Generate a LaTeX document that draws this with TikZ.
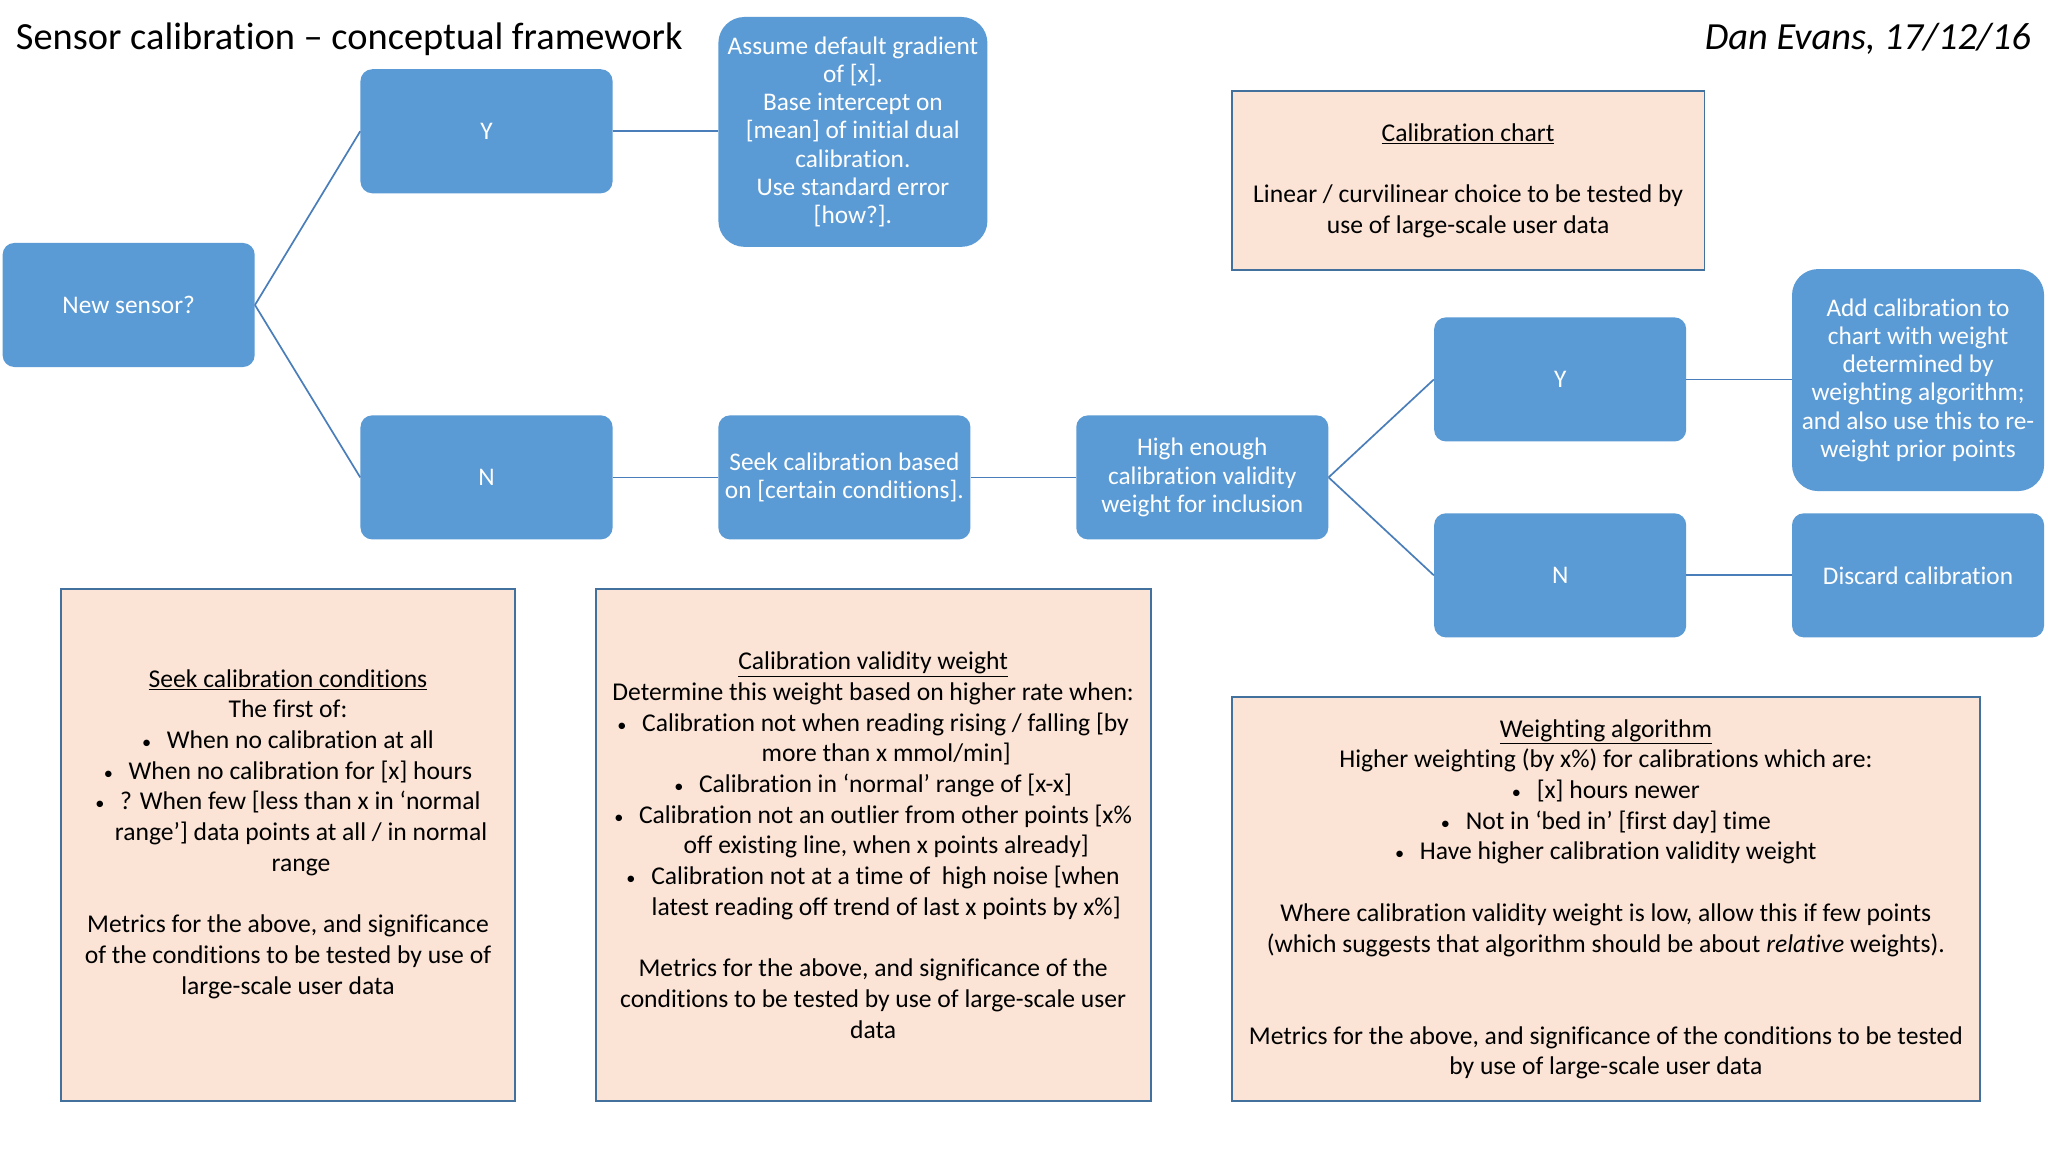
\documentclass[tikz,border=0pt]{standalone}
\usepackage{fontspec}
\setmainfont{Carlito}[RawFeature={-liga;-clig;-dlig;-calt}]
\definecolor{boxblue}{HTML}{5B9BD5}
\definecolor{lineblue}{HTML}{4A7EBB}
\definecolor{peach}{HTML}{FBE4D6}
\definecolor{peachedge}{HTML}{41719C}
\newcommand{\bfs}{\fontsize{19.4}{21.6}\selectfont}
\newcommand{\pfs}{\fontsize{19.6}{23.5}\selectfont}
\newcommand{\bul}{{\fontsize{14}{14}\selectfont•}\hspace{12pt}}
\newcommand{\hang}{\hspace*{20pt}}
\tikzset{
  bluebox/.style={rectangle, fill=boxblue, draw=none, rounded corners=9pt,
    minimum width=193pt, minimum height=95pt, inner sep=0pt, align=center,
    text=white, font=\bfs},
  peachbox/.style={rectangle, fill=peach, draw=peachedge, line width=1.5pt,
    inner sep=0pt, align=center, text=black, font=\pfs},
  conn/.style={draw=lineblue, line width=1.3pt},
  titletext/.style={inner sep=0pt, font=\fontsize{29.4}{34}\selectfont}
}
\begin{document}
\begin{tikzpicture}[x=1pt,y=-1pt]
\useasboundingbox[fill=white] (0,0) rectangle (1568,882);

\node[titletext, anchor=west] (title) at (12,30) {Sensor calibration – conceptual framework};
\node[titletext, anchor=east] (author) at (1555,30) {\itshape Dan Evans, 17/12/16};

% blue boxes
\node[bluebox] (ns) at (98.5,233.5) {New sensor?};
\node[bluebox] (y1) at (372.5,100.5) {Y};
\node[bluebox] (n1) at (372.5,365.5) {N};
\node[bluebox, minimum width=206pt, minimum height=176pt, rounded corners=20pt] (assume) at (653,101)
  {Assume default gradient\\of [x].\\Base intercept on\\[0pt][mean] of initial dual\\calibration.\\Use standard error\\[0pt][how?].};
\node[bluebox] (seek) at (646.5,365.5) {Seek calibration based\\on [certain conditions].};
\node[bluebox] (high) at (920.5,365.5) {High enough\\calibration validity\\weight for inclusion};
\node[bluebox] (y2) at (1194.5,290.5) {Y};
\node[bluebox] (n2) at (1194.5,440.5) {N};
\node[bluebox, minimum height=170pt, rounded corners=20pt] (add) at (1468.5,291)
  {Add calibration to\\chart with weight\\determined by\\weighting algorithm;\\and also use this to re-\\weight prior points};
\node[bluebox] (discard) at (1468.5,440.5) {Discard calibration};

% connectors
\draw[conn] (ns.east) -- (y1.west);
\draw[conn] (ns.east) -- (n1.west);
\draw[conn] (y1.east) -- (assume.west |- y1.east);
\draw[conn] (n1.east) -- (seek.west);
\draw[conn] (seek.east) -- (high.west);
\draw[conn] (high.east) -- (y2.west);
\draw[conn] (high.east) -- (n2.west);
\draw[conn] (y2.east) -- (add.west |- y2.east);
\draw[conn] (n2.east) -- (discard.west);

% peach boxes
\node[peachbox, minimum width=362pt, minimum height=137pt] (chart) at (1124,138.5)
  {\underline{Calibration chart}\\[0pt]\strut\\Linear / curvilinear choice to be tested by\\use of large-scale user data};

\node[peachbox, minimum width=347pt, minimum height=392pt] (seekcond) at (220.5,647)
  {\underline{Seek calibration conditions}\\The first of:\\\bul When no calibration at all\\\bul When no calibration for [x] hours\\\bul ? When few [less than x in ‘normal\\\hang range’] data points at all / in normal\\\hang range\\\strut\\Metrics for the above, and significance\\of the conditions to be tested by use of\\large-scale user data\\[-10pt]\strut};

\node[peachbox, minimum width=425pt, minimum height=392pt] (cvw) at (668.5,647)
  {\underline{Calibration validity weight}\\Determine this weight based on higher rate when:\\\bul Calibration not when reading rising / falling [by\\\hang more than x mmol/min]\\\bul Calibration in ‘normal’ range of [x-x]\\\bul Calibration not an outlier from other points [x\%\\\hang off existing line, when x points already]\\\bul Calibration not at a time of~ high noise [when\\\hang latest reading off trend of last x points by x\%]\\\strut\\Metrics for the above, and significance of the\\conditions to be tested by use of large-scale user\\data};

\node[peachbox, minimum width=573pt, minimum height=309pt] (walg) at (1229.5,688.5)
  {\underline{Weighting algorithm}\\Higher weighting (by x\%) for calibrations which are:\\\bul [x] hours newer\\\bul Not in ‘bed in’ [first day] time\\\bul Have higher calibration validity weight\\\strut\\Where calibration validity weight is low, allow this if few points\\(which suggests that algorithm should be about \textit{relative} weights).\\\strut\\\strut\\Metrics for the above, and significance of the conditions to be tested\\by use of large-scale user data};
\end{tikzpicture}
\end{document}
